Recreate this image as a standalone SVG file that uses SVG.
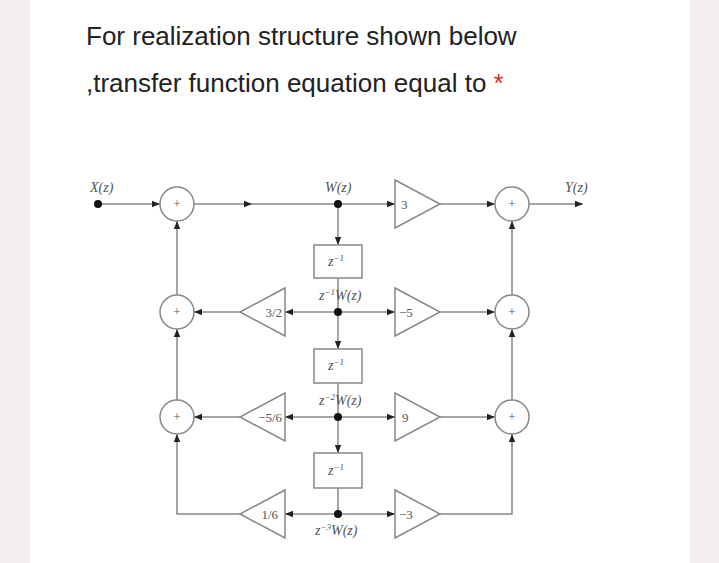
<svg xmlns="http://www.w3.org/2000/svg" width="719" height="563" viewBox="0 0 719 563">
<defs>
<marker id="a" viewBox="0 0 10 10" refX="10" refY="5" markerWidth="8" markerHeight="8" markerUnits="userSpaceOnUse" orient="auto"><path d="M0,1 L10,5 L0,9 Z" fill="#222"/></marker>
<style>
.l{stroke:#888;stroke-width:1.5;fill:none}
.s{stroke:#888;stroke-width:1.5;fill:#fff}
.t{font-family:"Liberation Serif",serif;font-size:13px;fill:#555}
.i{font-family:"Liberation Serif",serif;font-size:14px;font-style:italic;fill:#555}
</style>
</defs>
<rect width="719" height="563" fill="#f1edf1"/>
<rect x="30" y="0" width="660" height="563" fill="#fff"/>
<g id="title" font-family="Liberation Sans,Arial,sans-serif" font-size="26" fill="#222">
<text x="86" y="45">For realization structure shown below</text>
<text x="86" y="92">,transfer function equation equal to <tspan fill="#d93025">*</tspan></text>
</g>
<g id="connectors" class="l" marker-end="url(#a)">
<path d="M98,204 H160"/>
<path d="M194,204 H252"/>
<path d="M252,204 H338" marker-end="none"/>
<path d="M338,204 H395"/>
<path d="M440,204 H495"/>
<path d="M529,204 H583"/>
<path d="M338,204 V245"/>
<path d="M338,278 V349"/>
<path d="M338,383 V453"/>
<path d="M338,488 V514" marker-end="none"/>
<path d="M338,312 H285"/>
<path d="M240,312 H194"/>
<path d="M338,312 H395"/>
<path d="M440,312 H495"/>
<path d="M338,417 H285"/>
<path d="M240,417 H194"/>
<path d="M338,417 H395"/>
<path d="M440,417 H495"/>
<path d="M338,514 H285"/>
<path d="M338,514 H395"/>
<path d="M240,514 H177 V434"/>
<path d="M440,514 H512 V434"/>
<path d="M177,400 V329"/>
<path d="M177,295 V221"/>
<path d="M512,400 V329"/>
<path d="M512,295 V221"/>
</g>
<g id="dots" fill="#111">
<circle cx="98" cy="204" r="4"/><circle cx="338" cy="204" r="4"/><circle cx="338" cy="312" r="4"/><circle cx="338" cy="417" r="4"/><circle cx="338" cy="514" r="4"/>
</g>
<g id="sums" class="s">
<circle cx="177" cy="204" r="17"/><circle cx="177" cy="312" r="17"/><circle cx="177" cy="417" r="17"/>
<circle cx="512" cy="204" r="17"/><circle cx="512" cy="312" r="17"/><circle cx="512" cy="417" r="17"/>
</g>
<g class="t" text-anchor="middle">
<text x="177" y="208">+</text><text x="177" y="316">+</text><text x="177" y="421">+</text>
<text x="512" y="208">+</text><text x="512" y="316">+</text><text x="512" y="421">+</text>
</g>
<g id="delays">
<rect class="s" x="314" y="245" width="48" height="33"/>
<rect class="s" x="314" y="349" width="48" height="34"/>
<rect class="s" x="314" y="453" width="48" height="35"/>
<g class="i" text-anchor="middle"><text x="336" y="266">z<tspan font-size="9" dy="-5">−1</tspan></text><text x="336" y="370">z<tspan font-size="9" dy="-5">−1</tspan></text><text x="336" y="475">z<tspan font-size="9" dy="-5">−1</tspan></text></g>
</g>
<g id="gains">
<path class="s" d="M395,180 L440,204 L395,228 Z"/><text class="t" x="401" y="209">3</text>
<path class="s" d="M395,288 L440,312 L395,336 Z"/><text class="t" x="399" y="317">−5</text>
<path class="s" d="M395,393 L440,417 L395,441 Z"/><text class="t" x="402" y="422">9</text>
<path class="s" d="M395,490 L440,514 L395,538 Z"/><text class="t" x="399" y="519">−3</text>
<path class="s" d="M285,288 L240,312 L285,336 Z"/><text class="t" x="282" y="317" text-anchor="end">3/2</text>
<path class="s" d="M285,393 L240,417 L285,441 Z"/><text class="t" x="282" y="422" text-anchor="end">−5/6</text>
<path class="s" d="M285,490 L240,514 L285,538 Z"/><text class="t" x="278" y="519" text-anchor="end">1/6</text>
</g>
<g id="labels" class="i">
<text x="90" y="192">X(z)</text>
<text x="325" y="192">W(z)</text>
<text x="565" y="192">Y(z)</text>
<text x="319" y="300">z<tspan font-size="9" dy="-5">−1</tspan><tspan dy="5">W(z)</tspan></text>
<text x="319" y="405">z<tspan font-size="9" dy="-5">−2</tspan><tspan dy="5">W(z)</tspan></text>
<text x="315" y="535">z<tspan font-size="9" dy="-5">−3</tspan><tspan dy="5">W(z)</tspan></text>
</g>
</svg>
